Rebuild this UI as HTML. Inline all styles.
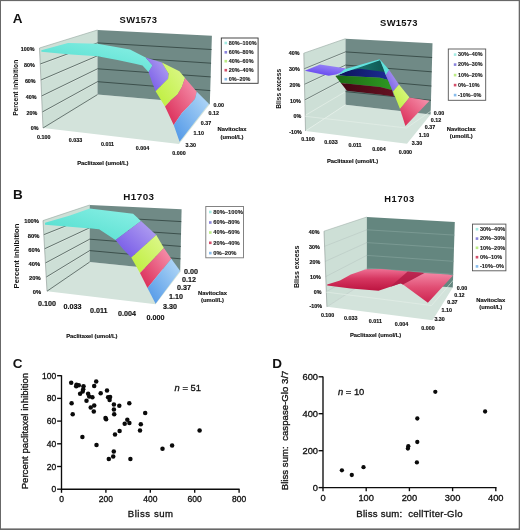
<!DOCTYPE html>
<html><head><meta charset="utf-8"><title>Figure</title>
<style>
html,body{margin:0;padding:0;background:#fff;}
body{width:520px;height:530px;overflow:hidden;}
svg{display:block;}
text{font-family:"Liberation Sans",sans-serif;fill:#111;}
.b{font-weight:bold;}
.t5{font-size:5.35px;font-weight:bold;stroke:#111;stroke-width:0.15px;}
.t6{font-size:5.8px;font-weight:bold;stroke:#111;stroke-width:0.15px;}
.lg{font-size:5.45px;font-weight:bold;fill:#222;stroke:#222;stroke-width:0.12px;}
.t7{font-size:7.2px;font-weight:bold;stroke:#111;stroke-width:0.15px;}
.v6{font-size:6.65px;font-weight:bold;}
.v7{font-size:7.55px;font-weight:bold;}
.ax{font-size:8.5px;stroke:#111;stroke-width:0.32px;}
.lab{font-size:9.6px;stroke:#111;stroke-width:0.3px;}
.ttl{font-size:9.4px;font-weight:bold;letter-spacing:0.3px;}
.pan{font-size:13.5px;font-weight:bold;}
</style></head><body>
<svg width="520" height="530" viewBox="0 0 520 530">
<defs>
<linearGradient id="gc" x1="0" y1="1" x2="1" y2="0"><stop offset="0" stop-color="#4cdccc"/><stop offset="1" stop-color="#8cf0e6"/></linearGradient>
<linearGradient id="gp" x1="0" y1="1" x2="1" y2="0"><stop offset="0" stop-color="#6e50e6"/><stop offset="1" stop-color="#b8a8f2"/></linearGradient>
<linearGradient id="gl" x1="0" y1="1" x2="1" y2="0"><stop offset="0" stop-color="#bcee38"/><stop offset="1" stop-color="#def890"/></linearGradient>
<linearGradient id="gr" x1="0" y1="1" x2="1" y2="0"><stop offset="0" stop-color="#d82450"/><stop offset="1" stop-color="#f898b2"/></linearGradient>
<linearGradient id="gb" x1="0" y1="1" x2="1" y2="0"><stop offset="0" stop-color="#4c94e6"/><stop offset="1" stop-color="#b8dcf8"/></linearGradient>
<linearGradient id="gr2" x1="0" y1="0" x2="0" y2="1"><stop offset="0" stop-color="#ee7094"/><stop offset="0.45" stop-color="#d63660"/><stop offset="1" stop-color="#bc1440"/></linearGradient>
<linearGradient id="gr3" x1="0" y1="0" x2="0" y2="1"><stop offset="0" stop-color="#f386a4"/><stop offset="0.5" stop-color="#e04c72"/><stop offset="1" stop-color="#cc2450"/></linearGradient>
<linearGradient id="un" x1="0" y1="0" x2="1" y2="0"><stop offset="0" stop-color="#0c1258"/><stop offset="1" stop-color="#1c2c94"/></linearGradient>
<linearGradient id="ut" x1="0" y1="0" x2="1" y2="0"><stop offset="0" stop-color="#1e7e76"/><stop offset="1" stop-color="#0e5652"/></linearGradient>
<linearGradient id="ug" x1="0" y1="0" x2="1" y2="0"><stop offset="0" stop-color="#1c6a14"/><stop offset="1" stop-color="#2e9822"/></linearGradient>
<linearGradient id="um" x1="0" y1="0" x2="1" y2="0"><stop offset="0" stop-color="#440612"/><stop offset="1" stop-color="#641222"/></linearGradient>
<linearGradient id="gp2" x1="0" y1="1" x2="0.6" y2="0"><stop offset="0" stop-color="#5a38ee"/><stop offset="1" stop-color="#9a88f6"/></linearGradient>
</defs>
<rect x="0" y="0" width="520" height="530" fill="#fff"/>

<polygon points="43.0,128.0 97.5,94.6 209.8,104.3 179.0,144.0" fill="#d3e3db"/>
<polygon points="39.5,48.0 97.5,30.0 97.5,94.6 43.0,128.0" fill="#cddfd6"/>
<polygon points="97.5,30.0 211.9,35.8 209.8,104.3 97.5,94.6" fill="#708a86"/>
<line x1="39.5" y1="48.0" x2="97.5" y2="30.0" stroke="#9fb0a9" stroke-width="0.7"/>
<line x1="40.2" y1="64.9" x2="97.5" y2="43.6" stroke="#e4eee8" stroke-width="0.7"/>
<line x1="40.2" y1="64.0" x2="97.5" y2="42.9" stroke="#34433f" stroke-width="0.7"/>
<line x1="97.5" y1="42.9" x2="211.5" y2="49.5" stroke="#3c504c" stroke-width="1.0"/>
<line x1="40.9" y1="80.9" x2="97.5" y2="56.5" stroke="#e4eee8" stroke-width="0.7"/>
<line x1="40.9" y1="80.0" x2="97.5" y2="55.8" stroke="#34433f" stroke-width="0.7"/>
<line x1="97.5" y1="55.8" x2="211.1" y2="63.2" stroke="#3c504c" stroke-width="1.0"/>
<line x1="41.6" y1="96.9" x2="97.5" y2="69.5" stroke="#e4eee8" stroke-width="0.7"/>
<line x1="41.6" y1="96.0" x2="97.5" y2="68.8" stroke="#34433f" stroke-width="0.7"/>
<line x1="97.5" y1="68.8" x2="210.6" y2="76.9" stroke="#3c504c" stroke-width="1.0"/>
<line x1="42.3" y1="112.9" x2="97.5" y2="82.4" stroke="#e4eee8" stroke-width="0.7"/>
<line x1="42.3" y1="112.0" x2="97.5" y2="81.7" stroke="#34433f" stroke-width="0.7"/>
<line x1="97.5" y1="81.7" x2="210.2" y2="90.6" stroke="#3c504c" stroke-width="1.0"/>
<line x1="43.0" y1="128.0" x2="97.5" y2="94.6" stroke="#34433f" stroke-width="0.7"/>
<line x1="39.5" y1="48" x2="43" y2="128" stroke="#8a9692" stroke-width="0.6"/>
<polygon points="41.3,50.3 68.0,43.0 97.5,43.7 130.0,49.5 145.6,57.5 152.5,65.6 148.5,71.9 142.5,65.5 135.0,63.7 117.5,60.0 97.5,56.3 67.5,54.3 41.4,51.8" fill="url(#gc)" />
<polygon points="145.6,57.5 161.9,62.5 168.7,73.7 168.1,78.7 155.6,91.2 152.0,82.0 148.5,71.9 152.5,65.6" fill="url(#gp)" />
<polygon points="161.9,62.5 179.4,71.2 185.0,78.1 181.9,87.0 177.5,94.4 170.5,100.5 165.0,106.6 155.6,91.2 168.1,78.7 168.7,73.7" fill="url(#gl)" />
<polygon points="185.0,78.1 196.8,91.8 195.0,98.7 188.7,106.2 181.9,113.1 173.7,125.0 165.0,106.6 170.5,100.5 177.5,94.4 181.9,87.0" fill="url(#gr)" />
<polygon points="196.8,91.8 208.9,103.7 179.6,141.8 173.7,125.0 181.9,113.1 188.7,106.2 195.0,98.7" fill="url(#gb)" />
<text x="34.4" y="50.5" class="t5" text-anchor="end" >100%</text>
<text x="34.8" y="67.10000000000001" class="t5" text-anchor="end" >80%</text>
<text x="35.6" y="82.7" class="t5" text-anchor="end" >60%</text>
<text x="36.4" y="98.80000000000001" class="t5" text-anchor="end" >40%</text>
<text x="37.2" y="114.60000000000001" class="t5" text-anchor="end" >20%</text>
<text x="38.6" y="129.9" class="t5" text-anchor="end" >0%</text>
<text x="43.7" y="138.9" class="t5" text-anchor="middle" >0.100</text>
<text x="75.5" y="142.20000000000002" class="t5" text-anchor="middle" >0.033</text>
<text x="107.5" y="146.4" class="t5" text-anchor="middle" >0.011</text>
<text x="142.5" y="149.9" class="t5" text-anchor="middle" >0.004</text>
<text x="179" y="154.9" class="t5" text-anchor="middle" >0.000</text>
<text x="218.7" y="106.9" class="t5" text-anchor="middle" >0.00</text>
<text x="213.7" y="114.9" class="t5" text-anchor="middle" >0.12</text>
<text x="206" y="124.9" class="t5" text-anchor="middle" >0.37</text>
<text x="198.7" y="134.9" class="t5" text-anchor="middle" >1.10</text>
<text x="190.7" y="146.9" class="t5" text-anchor="middle" >3.30</text>
<text x="232" y="130.7" class="t6" text-anchor="middle" >Navitoclax</text>
<text x="232" y="138.5" class="t6" text-anchor="middle" >(umol/L)</text>
<text x="102.8" y="165.3" class="t6" text-anchor="middle" >Paclitaxel (umol/L)</text>
<text transform="translate(17.8,87.8) rotate(-90)" class="v6" text-anchor="middle" >Percent inhibition</text>
<text x="138.5" y="23.4" class="ttl" text-anchor="middle" >SW1573</text>
<rect x="221.3" y="38" width="36.8" height="45.3" fill="#fff" stroke="#333" stroke-width="0.9"/>
<rect x="224.5" y="41.7" width="2.6" height="2.6" fill="#a4ece4"/>
<text x="228.70000000000002" y="44.8" class="lg" text-anchor="start" style="font-size:5.45px">80%–100%</text>
<rect x="224.5" y="51.0" width="2.6" height="2.6" fill="#8a84dc"/>
<text x="228.70000000000002" y="54.1" class="lg" text-anchor="start" style="font-size:5.45px">60%–80%</text>
<rect x="224.5" y="59.9" width="2.6" height="2.6" fill="#bcec84"/>
<text x="228.70000000000002" y="63.0" class="lg" text-anchor="start" style="font-size:5.45px">40%–60%</text>
<rect x="224.5" y="68.9" width="2.6" height="2.6" fill="#d4506c"/>
<text x="228.70000000000002" y="72.0" class="lg" text-anchor="start" style="font-size:5.45px">20%–40%</text>
<rect x="224.5" y="77.9" width="2.6" height="2.6" fill="#88bcec"/>
<text x="228.70000000000002" y="81.0" class="lg" text-anchor="start" style="font-size:5.45px">0%–20%</text>
<text x="12.8" y="22.9" class="pan" text-anchor="start" >A</text>
<polygon points="305.5,131.0 345.5,104.8 430.6,114.6 407.0,143.8" fill="#d3e3db"/>
<polygon points="303.8,53.2 345.5,38.7 345.5,104.8 305.5,131.0" fill="#cddfd6"/>
<polygon points="345.5,38.7 432.5,43.2 430.6,114.6 345.5,104.8" fill="#708a86"/>
<line x1="303.8" y1="53.2" x2="345.5" y2="38.7" stroke="#9fb0a9" stroke-width="0.7"/>
<line x1="304.1" y1="69.7" x2="345.5" y2="52.6" stroke="#e4eee8" stroke-width="0.7"/>
<line x1="304.1" y1="68.8" x2="345.5" y2="51.9" stroke="#4a5a56" stroke-width="0.7"/>
<line x1="345.5" y1="51.9" x2="432.1" y2="57.5" stroke="#3c504c" stroke-width="1.0"/>
<line x1="304.5" y1="85.2" x2="345.5" y2="65.8" stroke="#e4eee8" stroke-width="0.7"/>
<line x1="304.5" y1="84.3" x2="345.5" y2="65.1" stroke="#4a5a56" stroke-width="0.7"/>
<line x1="345.5" y1="65.1" x2="431.7" y2="71.8" stroke="#3c504c" stroke-width="1.0"/>
<line x1="304.8" y1="100.8" x2="345.5" y2="79.1" stroke="#e4eee8" stroke-width="0.7"/>
<line x1="304.8" y1="99.9" x2="345.5" y2="78.4" stroke="#4a5a56" stroke-width="0.7"/>
<line x1="345.5" y1="78.4" x2="431.4" y2="86.0" stroke="#3c504c" stroke-width="1.0"/>
<line x1="305.2" y1="115.4" x2="345.5" y2="91.6" stroke="#e6f0ea" stroke-width="0.7"/>
<line x1="345.5" y1="91.6" x2="431.0" y2="100.3" stroke="#3c504c" stroke-width="1.0"/>
<line x1="305.5" y1="131.0" x2="345.5" y2="104.8" stroke="#e6f0ea" stroke-width="0.7"/>
<line x1="303.8" y1="53.2" x2="305.5" y2="131" stroke="#8a9692" stroke-width="0.6"/>
<path d="M305 116.3L406.5 128L431 111" fill="none" stroke="#e6f0ea" stroke-width="0.6"/>
<polygon points="337.0,75.4 346.0,71.5 379.7,60.0 385.5,74.5 388.0,80.0 380.0,77.7" fill="url(#un)" />
<polygon points="350.0,70.2 379.7,59.6 385.0,72.0 360.0,68.8" fill="url(#ut)" />
<polygon points="335.4,76.0 337.0,75.4 380.0,77.7 388.0,80.0 392.0,90.0 380.0,87.0 340.8,83.0" fill="url(#ug)" />
<polygon points="340.8,83.0 380.0,87.0 392.0,90.0 394.0,96.5 380.0,94.6 347.0,90.8" fill="url(#um)" />
<polygon points="304.8,70.7 320.0,64.4 345.0,68.3 347.0,70.5 336.0,74.6 328.7,75.8" fill="url(#gp2)" />
<polygon points="344.6,69.2 379.7,59.3 379.9,60.3 362.0,66.5 346.0,71.8 337.0,75.4" fill="#62e4e0" />
<polygon points="379.7,59.3 389.2,70.0 385.8,75.0 383.0,67.5" fill="#5ee2dc" />
<polygon points="389.2,70.0 399.0,84.6 393.0,91.5 385.8,75.0" fill="url(#gp)" />
<polygon points="399.0,84.6 409.5,97.5 400.0,109.0 393.0,91.5" fill="url(#gl)" />
<polygon points="409.5,97.5 429.5,100.8 405.4,126.0 400.0,109.0" fill="url(#gr)" />
<text x="299.5" y="55.1" class="t5" text-anchor="end" >40%</text>
<text x="299.8" y="71.10000000000001" class="t5" text-anchor="end" >30%</text>
<text x="300.2" y="87.0" class="t5" text-anchor="end" >20%</text>
<text x="300.8" y="102.80000000000001" class="t5" text-anchor="end" >10%</text>
<text x="301.3" y="118.30000000000001" class="t5" text-anchor="end" >0%</text>
<text x="301.8" y="133.6" class="t5" text-anchor="end" >-10%</text>
<text x="308" y="140.9" class="t5" text-anchor="middle" >0.100</text>
<text x="331" y="144.4" class="t5" text-anchor="middle" >0.033</text>
<text x="355" y="147.4" class="t5" text-anchor="middle" >0.011</text>
<text x="379" y="150.9" class="t5" text-anchor="middle" >0.004</text>
<text x="405.4" y="154.20000000000002" class="t5" text-anchor="middle" >0.000</text>
<text x="439" y="115.4" class="t5" text-anchor="middle" >0.00</text>
<text x="436" y="121.9" class="t5" text-anchor="middle" >0.12</text>
<text x="430" y="128.9" class="t5" text-anchor="middle" >0.37</text>
<text x="424" y="136.5" class="t5" text-anchor="middle" >1.10</text>
<text x="417" y="145.4" class="t5" text-anchor="middle" >3.30</text>
<text x="461.3" y="131.2" class="t6" text-anchor="middle" >Navitoclax</text>
<text x="461.3" y="138.3" class="t6" text-anchor="middle" >(umol/L)</text>
<text x="352.5" y="162.8" class="t6" text-anchor="middle" >Paclitaxel (umol/L)</text>
<text transform="translate(281,88.8) rotate(-90)" class="v6" text-anchor="middle" >Bliss excess</text>
<text x="399" y="25.8" class="ttl" text-anchor="middle" >SW1573</text>
<rect x="448.3" y="49" width="37.4" height="51.3" fill="#fff" stroke="#555" stroke-width="0.9"/>
<rect x="453.8" y="53.3" width="2.6" height="2.6" fill="#a4ece4"/>
<text x="458.0" y="56.4" class="lg" text-anchor="start" style="font-size:5.4px">30%–40%</text>
<rect x="453.8" y="63.3" width="2.6" height="2.6" fill="#8a84dc"/>
<text x="458.0" y="66.4" class="lg" text-anchor="start" style="font-size:5.4px">20%–30%</text>
<rect x="453.8" y="73.8" width="2.6" height="2.6" fill="#bcec84"/>
<text x="458.0" y="76.9" class="lg" text-anchor="start" style="font-size:5.4px">10%–20%</text>
<rect x="453.8" y="83.8" width="2.6" height="2.6" fill="#d4506c"/>
<text x="458.0" y="86.9" class="lg" text-anchor="start" style="font-size:5.4px">0%–10%</text>
<rect x="453.8" y="93.8" width="2.6" height="2.6" fill="#88bcec"/>
<text x="458.0" y="96.9" class="lg" text-anchor="start" style="font-size:5.4px">-10%–0%</text>
<polygon points="47.0,291.2 89.7,262.0 180.8,271.2 155.6,304.2" fill="#d3e3db"/>
<polygon points="43.0,220.6 89.7,205.0 89.7,262.0 47.0,291.2" fill="#cddfd6"/>
<polygon points="89.7,205.0 181.6,209.2 180.2,271.2 89.7,262.0" fill="#708a86"/>
<line x1="43.0" y1="220.6" x2="89.7" y2="205.0" stroke="#9fb0a9" stroke-width="0.7"/>
<line x1="43.8" y1="235.6" x2="89.7" y2="217.1" stroke="#e4eee8" stroke-width="0.7"/>
<line x1="43.8" y1="234.7" x2="89.7" y2="216.4" stroke="#34433f" stroke-width="0.7"/>
<line x1="89.7" y1="216.4" x2="181.3" y2="221.6" stroke="#3c504c" stroke-width="1.0"/>
<line x1="44.6" y1="249.7" x2="89.7" y2="228.5" stroke="#e4eee8" stroke-width="0.7"/>
<line x1="44.6" y1="248.8" x2="89.7" y2="227.8" stroke="#34433f" stroke-width="0.7"/>
<line x1="89.7" y1="227.8" x2="181.0" y2="234.0" stroke="#3c504c" stroke-width="1.0"/>
<line x1="45.4" y1="263.9" x2="89.7" y2="239.9" stroke="#e4eee8" stroke-width="0.7"/>
<line x1="45.4" y1="263.0" x2="89.7" y2="239.2" stroke="#34433f" stroke-width="0.7"/>
<line x1="89.7" y1="239.2" x2="180.8" y2="246.4" stroke="#3c504c" stroke-width="1.0"/>
<line x1="46.2" y1="278.0" x2="89.7" y2="251.3" stroke="#e4eee8" stroke-width="0.7"/>
<line x1="46.2" y1="277.1" x2="89.7" y2="250.6" stroke="#34433f" stroke-width="0.7"/>
<line x1="89.7" y1="250.6" x2="180.5" y2="258.8" stroke="#3c504c" stroke-width="1.0"/>
<line x1="47.0" y1="291.2" x2="89.7" y2="262.0" stroke="#34433f" stroke-width="0.7"/>
<line x1="43" y1="220.6" x2="47" y2="291.2" stroke="#8a9692" stroke-width="0.6"/>
<polygon points="45.0,222.8 70.0,215.6 89.7,208.6 133.1,213.7 141.0,221.0 115.5,240.0 99.1,229.2 72.7,227.0 45.0,224.8" fill="url(#gc)" />
<polygon points="141.0,221.0 156.3,235.0 131.3,257.6 123.0,249.0 115.5,240.0" fill="url(#gp)" />
<polygon points="156.3,235.0 163.9,248.1 140.0,273.1 131.3,257.6" fill="url(#gl)" />
<polygon points="163.9,248.1 171.3,258.8 147.5,288.1 140.0,273.1" fill="url(#gr)" />
<polygon points="171.3,258.8 180.0,270.8 155.6,303.8 147.5,288.1" fill="url(#gb)" />
<text x="39" y="223.1" class="t6" text-anchor="end" >100%</text>
<text x="39.4" y="237.7" class="t6" text-anchor="end" >80%</text>
<text x="39.8" y="252.1" class="t6" text-anchor="end" >60%</text>
<text x="40.2" y="266.1" class="t6" text-anchor="end" >40%</text>
<text x="40.7" y="279.70000000000005" class="t6" text-anchor="end" >20%</text>
<text x="41.2" y="293.5" class="t6" text-anchor="end" >0%</text>
<text x="47" y="305.6" class="t7" text-anchor="middle" >0.100</text>
<text x="72.5" y="308.6" class="t7" text-anchor="middle" >0.033</text>
<text x="98.7" y="312.6" class="t7" text-anchor="middle" >0.011</text>
<text x="127" y="316.3" class="t7" text-anchor="middle" >0.004</text>
<text x="155.5" y="319.6" class="t7" text-anchor="middle" >0.000</text>
<text x="191" y="274.3" class="t7" text-anchor="middle" >0.00</text>
<text x="189" y="281.6" class="t7" text-anchor="middle" >0.12</text>
<text x="184" y="290.1" class="t7" text-anchor="middle" >0.37</text>
<text x="176" y="298.6" class="t7" text-anchor="middle" >1.10</text>
<text x="170" y="308.6" class="t7" text-anchor="middle" >3.30</text>
<text x="212.5" y="295" class="t6" text-anchor="middle" >Navitoclax</text>
<text x="212.5" y="302.2" class="t6" text-anchor="middle" >(umol/L)</text>
<text x="91.8" y="337.8" class="t6" text-anchor="middle" >Paclitaxel (umol/L)</text>
<text transform="translate(19.1,256) rotate(-90)" class="v7" text-anchor="middle" style="font-size:7.7px">Percent inhibition</text>
<text x="138.9" y="199.8" class="ttl" text-anchor="middle" style="font-size:9.8px;letter-spacing:0.5px">H1703</text>
<rect x="205.8" y="206.5" width="37.7" height="51.3" fill="#fff" stroke="#777" stroke-width="0.9"/>
<rect x="209.0" y="210.7" width="2.6" height="2.6" fill="#a4ece4"/>
<text x="213.20000000000002" y="213.8" class="lg" text-anchor="start" style="font-size:5.8px">80%–100%</text>
<rect x="209.0" y="221.2" width="2.6" height="2.6" fill="#8a84dc"/>
<text x="213.20000000000002" y="224.3" class="lg" text-anchor="start" style="font-size:5.8px">60%–80%</text>
<rect x="209.0" y="231.2" width="2.6" height="2.6" fill="#bcec84"/>
<text x="213.20000000000002" y="234.3" class="lg" text-anchor="start" style="font-size:5.8px">40%–60%</text>
<rect x="209.0" y="241.5" width="2.6" height="2.6" fill="#d4506c"/>
<text x="213.20000000000002" y="244.6" class="lg" text-anchor="start" style="font-size:5.8px">20%–40%</text>
<rect x="209.0" y="251.8" width="2.6" height="2.6" fill="#88bcec"/>
<text x="213.20000000000002" y="254.9" class="lg" text-anchor="start" style="font-size:5.8px">0%–20%</text>
<text x="13" y="199" class="pan" text-anchor="start" >B</text>
<polygon points="326.9,306.8 366.8,281.0 452.8,287.5 432.5,320.3" fill="#d3e3db"/>
<polygon points="324.0,231.2 366.8,217.0 366.8,281.0 326.9,306.8" fill="#cddfd6"/>
<polygon points="366.8,217.0 454.8,222.0 452.8,287.5 366.8,281.0" fill="#64867f"/>
<line x1="324.0" y1="231.2" x2="366.8" y2="217.0" stroke="#9fb0a9" stroke-width="0.6"/>
<line x1="324.6" y1="246.3" x2="366.8" y2="229.8" stroke="#b9c8c2" stroke-width="0.6"/>
<line x1="366.8" y1="229.8" x2="454.4" y2="235.1" stroke="#7c9b94" stroke-width="0.8999999999999999"/>
<line x1="325.2" y1="261.4" x2="366.8" y2="242.6" stroke="#b9c8c2" stroke-width="0.6"/>
<line x1="366.8" y1="242.6" x2="454.0" y2="248.2" stroke="#7c9b94" stroke-width="0.8999999999999999"/>
<line x1="325.7" y1="276.6" x2="366.8" y2="255.4" stroke="#b9c8c2" stroke-width="0.6"/>
<line x1="366.8" y1="255.4" x2="453.6" y2="261.3" stroke="#7c9b94" stroke-width="0.8999999999999999"/>
<line x1="326.3" y1="291.7" x2="366.8" y2="268.2" stroke="#b9c8c2" stroke-width="0.6"/>
<line x1="366.8" y1="268.2" x2="453.2" y2="274.4" stroke="#7c9b94" stroke-width="0.8999999999999999"/>
<line x1="326.9" y1="306.8" x2="366.8" y2="281.0" stroke="#b9c8c2" stroke-width="0.6"/>
<line x1="324" y1="231.2" x2="326.9" y2="306.8" stroke="#8a9692" stroke-width="0.6"/>
<path d="M325.5 292L431.5 305.5L453.5 280" fill="none" stroke="#e6f0ea" stroke-width="0.6"/>
<polygon points="327.2,284.6 340.0,280.6 350.8,274.6 366.0,269.2 381.5,268.9 407.7,271.5 424.6,273.0 403.0,284.6 400.8,283.3 378.5,290.8 350.8,288.5 327.2,285.6" fill="url(#gr2)" />
<polygon points="407.7,271.5 424.6,273.0 403.5,284.9 400.8,283.3 390.0,286.9" fill="#b01c46" opacity="0.8"/>
<polygon points="424.6,273.0 448.0,274.6 453.0,275.4 427.9,302.8 403.0,284.6" fill="url(#gr3)" />
<text x="319.5" y="233.6" class="t5" text-anchor="end" >40%</text>
<text x="319.8" y="248.9" class="t5" text-anchor="end" >30%</text>
<text x="320.2" y="264.29999999999995" class="t5" text-anchor="end" >20%</text>
<text x="320.8" y="279.2" class="t5" text-anchor="end" >10%</text>
<text x="321.4" y="293.59999999999997" class="t5" text-anchor="end" >0%</text>
<text x="322" y="308.09999999999997" class="t5" text-anchor="end" >-10%</text>
<text x="327.6" y="317.09999999999997" class="t5" text-anchor="middle" >0.100</text>
<text x="350.8" y="320.4" class="t5" text-anchor="middle" >0.033</text>
<text x="375.4" y="323.4" class="t5" text-anchor="middle" >0.011</text>
<text x="401.5" y="325.9" class="t5" text-anchor="middle" >0.004</text>
<text x="428" y="329.7" class="t5" text-anchor="middle" >0.000</text>
<text x="462" y="290.4" class="t5" text-anchor="middle" >0.00</text>
<text x="459.4" y="297.2" class="t5" text-anchor="middle" >0.12</text>
<text x="452.4" y="304.29999999999995" class="t5" text-anchor="middle" >0.37</text>
<text x="446.7" y="312.2" class="t5" text-anchor="middle" >1.10</text>
<text x="439.6" y="321.29999999999995" class="t5" text-anchor="middle" >3.30</text>
<text x="490.8" y="301.8" class="t6" text-anchor="middle" >Navitoclax</text>
<text x="490.8" y="309" class="t6" text-anchor="middle" >(umol/L)</text>
<text x="375.6" y="336.6" class="t6" text-anchor="middle" >Paclitaxel (umol/L)</text>
<text transform="translate(299.2,266.8) rotate(-90)" class="v6" text-anchor="middle" style="font-size:7.1px">Bliss excess</text>
<text x="399.5" y="202.3" class="ttl" text-anchor="middle" style="font-size:9.3px;letter-spacing:0.6px">H1703</text>
<rect x="472.5" y="224.1" width="33.4" height="46.7" fill="#fff" stroke="#555" stroke-width="0.9"/>
<rect x="475.7" y="227.9" width="2.6" height="2.6" fill="#a4ece4"/>
<text x="479.9" y="231.0" class="lg" text-anchor="start" style="font-size:5.55px">30%–40%</text>
<rect x="475.7" y="237.3" width="2.6" height="2.6" fill="#8a84dc"/>
<text x="479.9" y="240.4" class="lg" text-anchor="start" style="font-size:5.55px">20%–30%</text>
<rect x="475.7" y="246.5" width="2.6" height="2.6" fill="#bcec84"/>
<text x="479.9" y="249.6" class="lg" text-anchor="start" style="font-size:5.55px">10%–20%</text>
<rect x="475.7" y="255.9" width="2.6" height="2.6" fill="#d4506c"/>
<text x="479.9" y="259.0" class="lg" text-anchor="start" style="font-size:5.55px">0%–10%</text>
<rect x="475.7" y="265.1" width="2.6" height="2.6" fill="#88bcec"/>
<text x="479.9" y="268.2" class="lg" text-anchor="start" style="font-size:5.55px">-10%–0%</text>
<g stroke="#0c0c0c" stroke-width="1.35" fill="none">
<path d="M61.5 375.3V489.2H239.6"/>
<path d="M57.1 489.2H61.5"/>
<path d="M57.1 466.5H61.5"/>
<path d="M57.1 443.8H61.5"/>
<path d="M57.1 421.1H61.5"/>
<path d="M57.1 398.4H61.5"/>
<path d="M57.1 375.7H61.5"/>
<path d="M61.5 489.2V492.8"/>
<path d="M105.9 489.2V492.8"/>
<path d="M150.3 489.2V492.8"/>
<path d="M194.7 489.2V492.8"/>
<path d="M239.1 489.2V492.8"/>
</g>
<text x="56.3" y="492.2" class="ax" text-anchor="end" >0</text>
<text x="56.3" y="469.5" class="ax" text-anchor="end" >20</text>
<text x="56.3" y="446.8" class="ax" text-anchor="end" >40</text>
<text x="56.3" y="424.1" class="ax" text-anchor="end" >60</text>
<text x="56.3" y="401.4" class="ax" text-anchor="end" >80</text>
<text x="56.3" y="378.7" class="ax" text-anchor="end" >100</text>
<text x="61.5" y="501.8" class="ax" text-anchor="middle" >0</text>
<text x="105.9" y="501.8" class="ax" text-anchor="middle" >200</text>
<text x="150.3" y="501.8" class="ax" text-anchor="middle" >400</text>
<text x="194.7" y="501.8" class="ax" text-anchor="middle" >600</text>
<text x="239.1" y="501.8" class="ax" text-anchor="middle" >800</text>
<text x="150.4" y="516.6" class="lab" text-anchor="middle" textLength="45.4" lengthAdjust="spacing">Bliss sum</text>
<text transform="translate(27.7,431.1) rotate(-90)" class="lab" text-anchor="middle" textLength="116.5" lengthAdjust="spacing">Percent paclitaxel inhibition</text>
<text x="174.6" y="391.2" class="ax" style="font-size:9.4px"><tspan font-style="italic">n</tspan> = 51</text>
<text x="12.8" y="368.1" class="pan" text-anchor="start" >C</text>
<g fill="#0a0a0a">
<circle cx="71.2" cy="382.7" r="2.25"/>
<circle cx="76.5" cy="384.7" r="2.25"/>
<circle cx="78.8" cy="385.3" r="2.25"/>
<circle cx="83.5" cy="386.2" r="2.25"/>
<circle cx="83.2" cy="389.3" r="2.25"/>
<circle cx="82.7" cy="391.5" r="2.25"/>
<circle cx="80.1" cy="393.8" r="2.25"/>
<circle cx="96.2" cy="381.6" r="2.25"/>
<circle cx="94.2" cy="386.1" r="2.25"/>
<circle cx="88.1" cy="393.8" r="2.25"/>
<circle cx="89.2" cy="396.5" r="2.25"/>
<circle cx="92.4" cy="397.3" r="2.25"/>
<circle cx="86.5" cy="400.8" r="2.25"/>
<circle cx="71.6" cy="403.2" r="2.25"/>
<circle cx="94.2" cy="405.5" r="2.25"/>
<circle cx="90.7" cy="407.6" r="2.25"/>
<circle cx="93.8" cy="411.6" r="2.25"/>
<circle cx="72.7" cy="414.2" r="2.25"/>
<circle cx="100.7" cy="393.2" r="2.25"/>
<circle cx="107" cy="390.4" r="2.25"/>
<circle cx="108.1" cy="397.3" r="2.25"/>
<circle cx="110.1" cy="397" r="2.25"/>
<circle cx="109.6" cy="400.1" r="2.25"/>
<circle cx="113.9" cy="404.5" r="2.25"/>
<circle cx="119.3" cy="405.8" r="2.25"/>
<circle cx="129.3" cy="403.2" r="2.25"/>
<circle cx="113.9" cy="409.6" r="2.25"/>
<circle cx="114.2" cy="414.2" r="2.25"/>
<circle cx="105.5" cy="418.1" r="2.25"/>
<circle cx="106.1" cy="419.3" r="2.25"/>
<circle cx="127.3" cy="419.8" r="2.25"/>
<circle cx="124.7" cy="423.8" r="2.25"/>
<circle cx="129.4" cy="423.1" r="2.25"/>
<circle cx="119.6" cy="431.1" r="2.25"/>
<circle cx="115" cy="434.6" r="2.25"/>
<circle cx="82.4" cy="436.9" r="2.25"/>
<circle cx="96.5" cy="444.9" r="2.25"/>
<circle cx="113.8" cy="451.5" r="2.25"/>
<circle cx="113.2" cy="456.6" r="2.25"/>
<circle cx="108.8" cy="458.9" r="2.25"/>
<circle cx="130.4" cy="458.9" r="2.25"/>
<circle cx="145.2" cy="413.1" r="2.25"/>
<circle cx="140.8" cy="424.2" r="2.25"/>
<circle cx="140" cy="430.4" r="2.25"/>
<circle cx="199.6" cy="430.6" r="2.25"/>
<circle cx="172.1" cy="445.6" r="2.25"/>
<circle cx="162.5" cy="448.8" r="2.25"/>
<circle cx="76.2" cy="386.2" r="2.25"/>
</g>
<g stroke="#0c0c0c" stroke-width="1.35" fill="none">
<path d="M323 376.6V487.6H496.5"/>
<path d="M318.6 487.6H323"/>
<path d="M318.6 450.7H323"/>
<path d="M318.6 413.7H323"/>
<path d="M318.6 376.8H323"/>
<path d="M323.0 487.6V491.2"/>
<path d="M366.2 487.6V491.2"/>
<path d="M409.4 487.6V491.2"/>
<path d="M452.6 487.6V491.2"/>
<path d="M495.8 487.6V491.2"/>
</g>
<text x="318" y="490.8" class="ax" text-anchor="end" style="font-size:9.3px">0</text>
<text x="318" y="453.85" class="ax" text-anchor="end" style="font-size:9.3px">200</text>
<text x="318" y="416.9" class="ax" text-anchor="end" style="font-size:9.3px">400</text>
<text x="318" y="379.95" class="ax" text-anchor="end" style="font-size:9.3px">600</text>
<text x="323.0" y="500.8" class="ax" text-anchor="middle" style="font-size:9.3px">0</text>
<text x="366.2" y="500.8" class="ax" text-anchor="middle" style="font-size:9.3px">100</text>
<text x="409.4" y="500.8" class="ax" text-anchor="middle" style="font-size:9.3px">200</text>
<text x="452.6" y="500.8" class="ax" text-anchor="middle" style="font-size:9.3px">300</text>
<text x="495.8" y="500.8" class="ax" text-anchor="middle" style="font-size:9.3px">400</text>
<text x="409.4" y="516.9" class="lab" text-anchor="middle" style="white-space:pre" textLength="106.3" lengthAdjust="spacing">Bliss sum:  cellTiter-Glo</text>
<text transform="translate(287.6,430.4) rotate(-90)" class="lab" text-anchor="middle" style="white-space:pre" textLength="119.7" lengthAdjust="spacing">Bliss sum:  caspase-Glo 3/7</text>
<text x="338" y="394.6" class="ax" style="font-size:9.4px"><tspan font-style="italic">n</tspan> = 10</text>
<text x="272.3" y="368" class="pan" text-anchor="start" >D</text>
<g fill="#0a0a0a">
<circle cx="435.3" cy="391.8" r="2.15"/>
<circle cx="485.1" cy="411.5" r="2.15"/>
<circle cx="417.3" cy="418.5" r="2.15"/>
<circle cx="417.3" cy="442" r="2.15"/>
<circle cx="408.3" cy="446.2" r="2.15"/>
<circle cx="407.9" cy="448.6" r="2.15"/>
<circle cx="416.9" cy="462.4" r="2.15"/>
<circle cx="363.5" cy="467.2" r="2.15"/>
<circle cx="341.9" cy="470.3" r="2.15"/>
<circle cx="351.8" cy="475" r="2.15"/>
</g>
<g fill="#686868"><rect x="0" y="0" width="520" height="1.1"/><rect x="0" y="0" width="1" height="530"/><rect x="518.7" y="0" width="1.3" height="530"/><rect x="0" y="528.4" width="520" height="1.6"/></g>
</svg></body></html>
